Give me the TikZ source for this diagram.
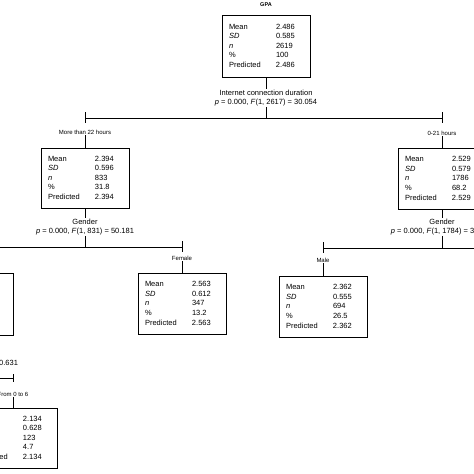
\documentclass[tikz,border=0pt]{standalone}
\usepackage{fontspec}
\setmainfont{Liberation Sans}
\newcommand\statrows[5]{\begin{tabular}{@{}p{47pt}@{}l@{}}Mean & #1\\ \textit{SD} & #2\\ \textit{n} & #3\\ \% & #4\\ Predicted & #5\end{tabular}}
\begin{document}
\begin{tikzpicture}[x=1pt,y=-1pt,
  statbox/.style={draw, line width=0.9pt, anchor=north, minimum width=88pt, minimum height=61pt,
    text width=74pt, inner xsep=7pt, inner ysep=0pt, align=left, font=\fontsize{7.5}{9.6}\selectfont},
  splitlab/.style={anchor=north, align=center, inner sep=0.5pt, font=\fontsize{7.5}{9.4}\selectfont},
  branchlab/.style={inner sep=1pt, font=\fontsize{6}{7}\selectfont},
  titlelab/.style={inner sep=0pt, font=\fontsize{5.5}{6}\selectfont\bfseries},
  conn/.style={line width=0.9pt}]
\useasboundingbox (0,0) rectangle (474,474);
\clip (0,0) rectangle (474,474);
% root
\node[titlelab] (gpa) at (266,5) {GPA};
\node[statbox, minimum height=62pt] (root) at (266,15) {\statrows{2.486}{0.585}{2619}{100}{2.486}};
\node[splitlab] (s0) at (266,89) {Internet connection duration\\ \textit{p} = 0.000, \textit{F}(1, 2617) = 30.054};
\draw[conn] (root.south) -- (s0.north);
\coordinate (h0l) at (85,118);
\coordinate (h0r) at (442,118);
\draw[conn] (s0.south) -- (s0.south |- h0l);
\draw[conn] (h0l) -- (h0r);
% level 1 left
\node[branchlab] (b1) at (85,132) {More than 22 hours};
\draw[conn] ([yshift=6pt]h0l) -- ([yshift=-5pt]h0l);
\node[statbox, minimum height=60pt] (c1) at (85,148) {\statrows{2.394}{0.596}{833}{31.8}{2.394}};
\draw[conn] (b1.south) -- (c1.north);
\node[splitlab] (s1) at (85,218) {Gender\\ \textit{p} = 0.000, \textit{F}(1, 831) = 50.181};
\draw[conn] (c1.south) -- (s1.north);
\coordinate (h1l) at (-31,247);
\coordinate (h1r) at (182,247);
\draw[conn] (s1.south) -- (s1.south |- h1l);
\draw[conn] (h1l) -- (h1r);
% level 1 right
\node[branchlab] (b2) at (442,133) {0-21 hours};
\draw[conn] ([yshift=6pt]h0r) -- ([yshift=-5pt]h0r);
\node[statbox] (c2) at (442,148) {\statrows{2.529}{0.579}{1786}{68.2}{2.529}};
\draw[conn] (b2.south) -- (c2.north);
\node[splitlab] (s2) at (442,218) {Gender\\ \textit{p} = 0.000, \textit{F}(1, 1784) = 36.517};
\draw[conn] (c2.south) -- (s2.north);
\coordinate (h2l) at (323,248);
\coordinate (h2r) at (560,248);
\draw[conn] (s2.south) -- (s2.south |- h2l);
\draw[conn] (h2l) -- (h2r);
% level 2 under left
\node[branchlab] (b11) at (-31,258) {Male};
\draw[conn] ([yshift=6pt]h1l) -- ([yshift=-5pt]h1l);
\node[statbox, minimum height=62pt] (c11) at (-31,273) {\statrows{2.273}{0.566}{486}{18.6}{2.273}};
\draw[conn] (b11.south) -- (c11.north);
\node[branchlab] (b12) at (182,258) {Female};
\draw[conn] ([yshift=6pt]h1r) -- ([yshift=-5pt]h1r);
\node[statbox] (c12) at (182,273) {\statrows{2.563}{0.612}{347}{13.2}{2.563}};
\draw[conn] (b12.south) -- (c12.north);
% level 2 under right
\node[branchlab] (b21) at (323,260) {Male};
\draw[conn] ([yshift=6pt]h2l) -- ([yshift=-5pt]h2l);
\node[statbox] (c21) at (323,276) {\statrows{2.362}{0.555}{694}{26.5}{2.362}};
\draw[conn] (b21.south) -- (c21.north);
% level 3
\node[splitlab] (s11) at (-31,359) {\textit{p} = 0.000, \textit{F}(1, 484) = 20.631};
\draw[conn] (c11.south) -- (s11.north);
\coordinate (h11l) at (-31,378);
\coordinate (h11r) at (13,378);
\draw[conn] (s11.south) -- (s11.south |- h11l);
\draw[conn] (h11l) -- (h11r);
\node[branchlab] (b111) at (13,394) {From 0 to 6};
\draw[conn] ([yshift=4pt]h11r) -- ([yshift=-4pt]h11r);
\node[statbox, minimum height=60pt] (c111) at (13,408) {\statrows{2.134}{0.628}{123}{4.7}{2.134}};
\draw[conn] (b111.south) -- (c111.north);
\end{tikzpicture}
\end{document}
